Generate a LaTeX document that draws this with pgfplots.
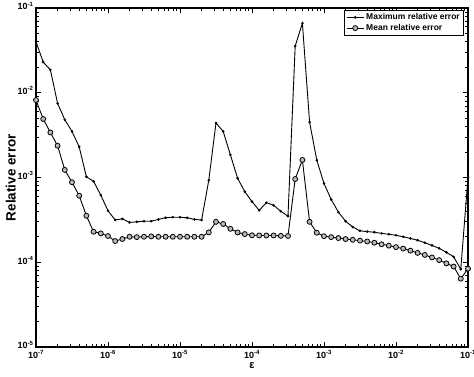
\documentclass[border=0pt]{standalone}
\usepackage{pgfplots}
\pgfplotsset{compat=1.18}
\usepackage{pgfplotstable}
\usepackage{fontspec}
\setmainfont{Liberation Sans}
\pgfplotstableread{
x max mean
1.0000e-7 4.0e-2 8.2e-3
1.2589e-7 2.3e-2 4.9e-3
1.5849e-7 1.86e-2 3.4e-3
1.9953e-7 7.5e-3 2.37e-3
2.5119e-7 4.8e-3 1.23e-3
3.1623e-7 3.5e-3 8.8e-4
3.9811e-7 2.3e-3 6.1e-4
5.0119e-7 1.02e-3 3.54e-4
6.3096e-7 9.0e-4 2.29e-4
7.9433e-7 6.2e-4 2.19e-4
1.0000e-6 4.05e-4 2.04e-4
1.2589e-6 3.16e-4 1.78e-4
1.5849e-6 3.25e-4 1.88e-4
1.9953e-6 2.95e-4 2.0e-4
2.5119e-6 3.0e-4 1.98e-4
3.1623e-6 3.05e-4 2.0e-4
3.9811e-6 3.05e-4 2.02e-4
5.0119e-6 3.2e-4 2.0e-4
6.3096e-6 3.35e-4 2.0e-4
7.9433e-6 3.4e-4 2.0e-4
1.0000e-5 3.4e-4 2.0e-4
1.2589e-5 3.35e-4 2.0e-4
1.5849e-5 3.2e-4 2.0e-4
1.9953e-5 3.15e-4 2.0e-4
2.5119e-5 9.3e-4 2.25e-4
3.1623e-5 4.4e-3 3.0e-4
3.9811e-5 3.5e-3 2.83e-4
5.0119e-5 1.85e-3 2.48e-4
6.3096e-5 9.8e-4 2.25e-4
7.9433e-5 6.8e-4 2.15e-4
1.0000e-4 5.2e-4 2.08e-4
1.2589e-4 4.1e-4 2.07e-4
1.5849e-4 5.05e-4 2.07e-4
1.9953e-4 4.7e-4 2.07e-4
2.5119e-4 4.0e-4 2.05e-4
3.1623e-4 3.5e-4 2.04e-4
3.9811e-4 3.56e-2 9.6e-4
5.0119e-4 6.6e-2 1.61e-3
6.3096e-4 4.5e-3 3.0e-4
7.9433e-4 1.6e-3 2.23e-4
1.0000e-3 8.5e-4 2.03e-4
1.2589e-3 5.5e-4 1.98e-4
1.5849e-3 3.9e-4 1.93e-4
1.9953e-3 3.05e-4 1.88e-4
2.5119e-3 2.6e-4 1.84e-4
3.1623e-3 2.35e-4 1.80e-4
3.9811e-3 2.3e-4 1.76e-4
5.0119e-3 2.26e-4 1.70e-4
6.3096e-3 2.19e-4 1.63e-4
7.9433e-3 2.14e-4 1.57e-4
1.0000e-2 2.08e-4 1.51e-4
1.2589e-2 2.0e-4 1.45e-4
1.5849e-2 1.91e-4 1.37e-4
1.9953e-2 1.82e-4 1.29e-4
2.5119e-2 1.70e-4 1.22e-4
3.1623e-2 1.58e-4 1.14e-4
3.9811e-2 1.46e-4 1.06e-4
5.0119e-2 1.31e-4 9.7e-5
6.3096e-2 1.16e-4 8.9e-5
7.9433e-2 8.3e-5 6.4e-5
1.0000e-1 1.0e-3 8.4e-5
}\datatable
\begin{document}
\begin{tikzpicture}
\begin{axis}[
  scale only axis,
  width=432pt, height=339pt,
  xmode=log, ymode=log,
  xmin=1e-7, xmax=1e-1, ymin=1e-5, ymax=1e-1,
  axis line style={line width=1.1pt},
  every tick/.style={black, line width=0.7pt},
  major tick length=5pt, minor tick length=3pt,
  xtick={1e-7,1e-6,1e-5,1e-4,1e-3,1e-2,1e-1},
  xticklabels={10\textsuperscript{-7},10\textsuperscript{-6},10\textsuperscript{-5},10\textsuperscript{-4},10\textsuperscript{-3},10\textsuperscript{-2},10\textsuperscript{-1}},
  ytick={1e-5,1e-4,1e-3,1e-2,1e-1},
  yticklabels={10\textsuperscript{-5},10\textsuperscript{-4},10\textsuperscript{-3},10\textsuperscript{-2},10\textsuperscript{-1}},
  tick label style={font=\bfseries\fontsize{9}{10}\selectfont},
  xticklabel style={yshift=0pt},
  yticklabel style={xshift=1pt, yshift=2pt},
  xlabel={\textbf{ε}},
  ylabel={\textbf{Relative error}},
  xlabel style={font=\bfseries\fontsize{11}{12}\selectfont, yshift=3pt},
  ylabel style={font=\bfseries\fontsize{13.5}{14}\selectfont, yshift=-5pt},
  legend style={at={(0.99,0.995)}, anchor=north east, draw=black, line width=0.8pt,
    font=\bfseries\fontsize{8.5}{9.5}\selectfont, inner sep=1.5pt, row sep=-1pt,
    cells={anchor=west}},
  legend cell align=left,
]
\addplot[black, line width=0.9pt, mark=*, mark size=0.8pt] table[x=x, y=max] {\datatable};
\addlegendentry{Maximum relative error}
\addplot[black, line width=0.9pt, mark=*, mark size=2.5pt, mark options={fill=gray!55, draw=black, line width=0.8pt}] table[x=x, y=mean] {\datatable};
\addlegendentry{Mean relative error}
\end{axis}
\pgfresetboundingbox
\path[use as bounding box] (-36pt,-29pt) rectangle (438pt,347pt);
\end{tikzpicture}
\end{document}
